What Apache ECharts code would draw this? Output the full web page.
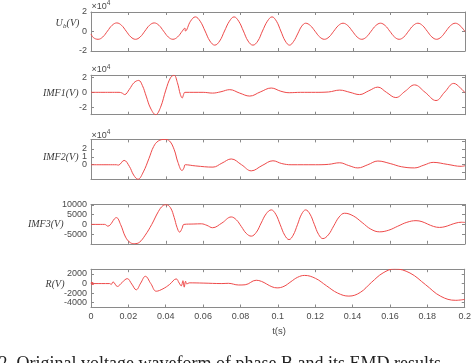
<!DOCTYPE html>
<html>
<head>
<meta charset="utf-8">
<script src="https://cdn.jsdelivr.net/npm/echarts@6/dist/echarts.min.js"></script>
<style>
html,body{margin:0;padding:0;background:#fff;}
#c{width:474px;height:363px;}
</style>
</head>
<body>
<div id="c"></div>
<script>
// ---- data (time s, value) ----
// Ub in units of 1e4 V
const ubData = [[0,-0.25],[0.0013,-0.63],[0.0038,-0.8],[0.0063,-0.56],[0.0088,0.04],[0.0113,0.64],[0.0138,0.88],[0.0163,0.64],[0.0188,0.04],[0.0213,-0.56],[0.0238,-0.8],[0.0263,-0.56],[0.0288,0.04],[0.0313,0.64],[0.0338,0.88],[0.0363,0.64],[0.0388,0.04],[0.0413,-0.56],[0.0438,-0.8],[0.0463,-0.56],[0.0488,0.04],[0.0502,0.35],
[0.0505,0.05],[0.0532,1.05],[0.0558,1.5],[0.0584,1.05],[0.061,0.05],[0.0636,-0.98],[0.0662,-1.4],[0.0688,-0.98],[0.0714,0.05],[0.074,1.05],[0.0765,1.5],[0.079,1.05],[0.0815,0.05],[0.084,-0.98],[0.0866,-1.4],[0.0892,-0.98],[0.0917,0.05],[0.0943,1.05],[0.0968,1.5],[0.0992,1.05],[0.1015,0.05],[0.1039,-0.98],[0.1062,-1.4],
[0.1084,-1.0],[0.1105,-0.25],[0.1127,0.55],[0.1148,0.85],[0.1173,0.61],[0.1198,0.03],[0.1223,-0.56],[0.1248,-0.8],[0.1273,-0.56],[0.1298,0.03],[0.1323,0.61],[0.1348,0.85],[0.1373,0.61],[0.1398,0.03],[0.1423,-0.56],[0.1448,-0.8],[0.1473,-0.56],[0.1498,0.03],[0.1523,0.61],[0.1548,0.85],[0.1573,0.61],[0.1598,0.03],[0.1623,-0.56],[0.1648,-0.8],[0.1673,-0.56],[0.1698,0.03],[0.1723,0.61],[0.1748,0.85],[0.1773,0.61],[0.1798,0.03],[0.1823,-0.56],[0.1848,-0.8],[0.1873,-0.56],[0.1898,0.03],[0.1923,0.61],[0.1948,0.85],[0.1973,0.61],[0.2,0.0]];
// IMF1 in units of 1e4 V
const imf1Data = [[0,0],[0.015,0],[0.0165,-0.08],[0.018,-0.3],[0.0205,0.4],[0.023,1.3],[0.0255,1.6],[0.0275,0.9],[0.0295,-0.5],[0.0318,-2.1],[0.0346,-3.0],[0.0372,-2.0],[0.040,0.3],[0.0425,1.95],[0.0444,2.3],[0.0462,1.3],[0.0478,-0.3],[0.0488,-0.75],[0.0495,-0.3],[0.0502,0.0],
[0.06,0.0],[0.065,-0.1],[0.0695,0.08],[0.0742,0.36],[0.0795,-0.1],[0.0849,-0.5],[0.0905,0.05],[0.0964,0.58],[0.1015,0.15],[0.106,-0.05],[0.112,0.0],[0.12,0.0],[0.127,0.05],[0.133,0.3],[0.1385,0.0],[0.1436,-0.3],[0.1485,0.2],[0.1534,0.7],[0.158,0.0],[0.163,-0.7],[0.168,0.15],[0.173,1.0],[0.1787,0.0],[0.1845,-1.1],[0.1892,0.05],[0.194,1.2],[0.1975,0.6],[0.2,-0.05]];
// IMF2 in units of 1e4 V
const imf2Data = [[0,0],[0.0136,0],[0.0146,-0.05],[0.0177,0.55],[0.0205,-0.2],[0.0228,-1.3],[0.0251,-1.83],[0.028,-0.9],[0.031,0.8],[0.0335,2.3],[0.036,3.0],[0.0394,3.2],[0.042,3.0],[0.0445,1.9],[0.0465,0.3],[0.0487,-0.73],[0.0497,-0.4],[0.0504,0.0],
[0.056,-0.15],[0.0652,-0.3],[0.07,0.2],[0.075,0.73],[0.0805,0.0],[0.0857,-0.77],[0.0915,-0.1],[0.0973,0.5],[0.102,0.15],[0.107,0.0],[0.12,0.0],[0.127,0.05],[0.133,0.25],[0.1378,-0.1],[0.1427,-0.4],[0.148,0.0],[0.1534,0.47],[0.16,0.15],[0.166,-0.25],[0.173,-0.4],[0.178,-0.05],[0.183,0.3],[0.1905,0.05],[0.198,-0.2],[0.2,-0.12]];
// IMF3 in V
const imf3Data = [[0,0],[0.0073,0],[0.009,-900],[0.0136,3450],[0.0158,0],[0.0185,-6500],[0.021,-9300],[0.0233,-9800],[0.0258,-9200],[0.029,-5500],[0.0325,0],[0.036,6500],[0.0385,9600],[0.0403,10000],[0.0425,8500],[0.0445,3500],[0.046,-1500],[0.0474,-3950],[0.0487,-2000],[0.0497,0],
[0.055,200],[0.059,300],[0.062,-500],[0.065,-1700],[0.07,700],[0.075,3800],[0.0777,2360],[0.0804,-1100],[0.083,-4560],[0.0857,-6000],[0.0884,-4040],[0.091,700],[0.0937,5440],[0.0964,7400],[0.0988,5185],[0.1012,-175],[0.1036,-5530],[0.1059,-7750],[0.1081,-5535],[0.1104,-175],[0.1126,5185],[0.1148,7400],[0.1171,5255],[0.1194,75],[0.1217,-5100],[0.124,-7250],[0.1269,-5355],[0.1298,-775],[0.1327,3800],[0.1356,5700],[0.1403,4310],[0.145,950],[0.1496,-2400],[0.1543,-3800],[0.1592,-2965],[0.164,-950],[0.1689,1060],[0.1738,1900],[0.177,1395],[0.180,175],[0.1832,-1050],[0.1863,-1550],[0.1893,-1165],[0.1922,-225],[0.1952,700],[0.198,1100],[0.2,1000]];
// R in V
const rData = [[0,0],[0.0003,300],[0.0006,-300],[0.0009,300],[0.0012,-250],[0.0016,0],[0.01,0],[0.0108,-200],[0.0118,350],[0.0141,-600],[0.0168,300],[0.0194,1030],[0.0218,-100],[0.0242,-1300],[0.0266,100],[0.0291,1520],[0.032,0],[0.0349,-1600],[0.0385,-1100],[0.042,-200],[0.0456,970],[0.0472,100],[0.0483,-500],[0.0492,600],[0.0499,-750],[0.0506,480],[0.0513,-100],[0.0525,150],
[0.06,100],[0.07,0],[0.0735,50],[0.079,-300],[0.0825,-250],[0.0884,690],[0.0912,460],[0.094,-100],[0.0968,-670],[0.0996,-900],[0.1033,-570],[0.107,400],[0.1106,1320],[0.1143,1700],[0.1202,1070],[0.126,-460],[0.132,-1990],[0.138,-2620],[0.1441,-1850],[0.150,215],[0.1563,2230],[0.1625,3050],[0.1707,2200],[0.179,-225],[0.1871,-2650],[0.1952,-3500],[0.2,-3300]];

// tick values
const xTicks = [0,0.02,0.04,0.06,0.08,0.1,0.12,0.14,0.16,0.18,0.2];
const ubTicks = [-2,0,2];
const imf1Ticks = [-2,0,2];
const imf2Ticks = [-1,0,1,2,3];
const imf3Ticks = [-5000,0,5000,10000];
const rTicks = [-4000,-2000,0,2000];

const panels = [
  {data: ubData, ticks: ubTicks, min: -2, max: 2},
  {data: imf1Data, ticks: imf1Ticks, min: -3.0, max: 2.3},
  {data: imf2Data, ticks: imf2Ticks, min: -1.85, max: 3.2},
  {data: imf3Data, ticks: imf3Ticks, min: -9900, max: 10200},
  {data: rData, ticks: rTicks, min: -5000, max: 3000}
];
const tops = [12, 75.2, 139.4, 204.4, 269.2];
const heights = [39, 39.5, 40, 39.4, 38.3];

const axisCol = '#8a8a8a';
const labCol = '#4a4a4a';
const sans = 'Liberation Sans, Arial, sans-serif';
const serif = 'Liberation Serif, Times New Roman, serif';

const grid = [], xAxis = [], yAxis = [], series = [];
panels.forEach((p, i) => {
  grid.push({left: 91, width: 374, top: tops[i], height: heights[i], containLabel: false});
  const last = i === panels.length - 1;
  xAxis.push({type: 'value', gridIndex: i, min: 0, max: 0.2, interval: 0.02, position: 'bottom',
    axisLine: {show: true, onZero: false, lineStyle: {color: axisCol, width: 1}},
    axisTick: {show: true, inside: true, length: 3, lineStyle: {color: axisCol}},
    axisLabel: {show: last, color: labCol, fontSize: 9, fontFamily: sans, margin: 5, showMaxLabel: true, showMinLabel: true,
      formatter: v => String(+v.toFixed(2))},
    splitLine: {show: false}});
  xAxis.push({type: 'value', gridIndex: i, min: 0, max: 0.2, interval: 0.02, position: 'top',
    axisLine: {show: true, onZero: false, lineStyle: {color: axisCol, width: 1}},
    axisTick: {show: true, inside: true, length: 3, lineStyle: {color: axisCol}},
    axisLabel: {show: false}, splitLine: {show: false}});
  yAxis.push({type: 'value', gridIndex: i, min: p.min, max: p.max, position: 'left',
    axisLine: {show: true, onZero: false, lineStyle: {color: axisCol, width: 1}},
    axisTick: {show: true, inside: true, length: 3, lineStyle: {color: axisCol}, customValues: p.ticks},
    axisLabel: {show: true, color: labCol, fontSize: 9, fontFamily: sans, margin: 4, customValues: p.ticks,
      formatter: v => String(v)},
    splitLine: {show: false}});
  yAxis.push({type: 'value', gridIndex: i, min: p.min, max: p.max, position: 'right',
    axisLine: {show: true, onZero: false, lineStyle: {color: axisCol, width: 1}},
    axisTick: {show: true, inside: true, length: 3, lineStyle: {color: axisCol}, customValues: p.ticks},
    axisLabel: {show: false}, splitLine: {show: false}});
  series.push({type: 'line', xAxisIndex: 2 * i, yAxisIndex: 2 * i, data: p.data,
    showSymbol: false, smooth: 0.4, clip: true, silent: true, animation: false,
    lineStyle: {color: '#ee4a4a', width: 1}});
});

function txt(x, y, text, extra) {
  return {type: 'text', x: x, y: y, silent: true,
    style: Object.assign({text: text, fontFamily: serif, fontStyle: 'italic', fontSize: 10, fill: '#3a3a3a', align: 'right', verticalAlign: 'middle'}, extra || {})};
}
function exp(x, y) {
  return {type: 'text', x: x, y: y, silent: true,
    style: {text: '{a|\u00d710}{b|4}', align: 'left', verticalAlign: 'middle',
      rich: {a: {fontFamily: sans, fontSize: 9, fill: '#4a4a4a', lineHeight: 12},
             b: {fontFamily: sans, fontSize: 6.5, fill: '#4a4a4a', lineHeight: 12, padding: [0,0,6,0]}}}};
}

const graphic = [
  txt(62.7, 23, 'U'),
  txt(62.9, 26.5, 'b', {align: 'left', fontSize: 7}),
  txt(66.6, 23, '(V)', {align: 'left'}),
  txt(78.5, 93, 'IMF1(V)'),
  txt(78.5, 157, 'IMF2(V)'),
  txt(63.5, 224.2, 'IMF3(V)'),
  txt(64.5, 284.3, 'R(V)'),
  exp(91.5, 6.5), exp(91.5, 70), exp(91.5, 135.5),
  {type: 'text', x: 279, y: 331, silent: true,
    style: {text: 't(s)', fontFamily: sans, fontSize: 9.5, fill: '#4a4a4a', align: 'center', verticalAlign: 'middle'}},
  {type: 'text', x: -1.5, y: 364.5, silent: true,
    style: {text: '2. Original voltage waveform of phase B and its EMD results', fontFamily: serif, fontSize: 18, fill: '#222', align: 'left', verticalAlign: 'middle'}}
];

const chart = echarts.init(document.getElementById('c'), null, {renderer: 'canvas'});
chart.setOption({animation: false, backgroundColor: '#fff', grid, xAxis, yAxis, series, graphic});
</script>
</body>
</html>
